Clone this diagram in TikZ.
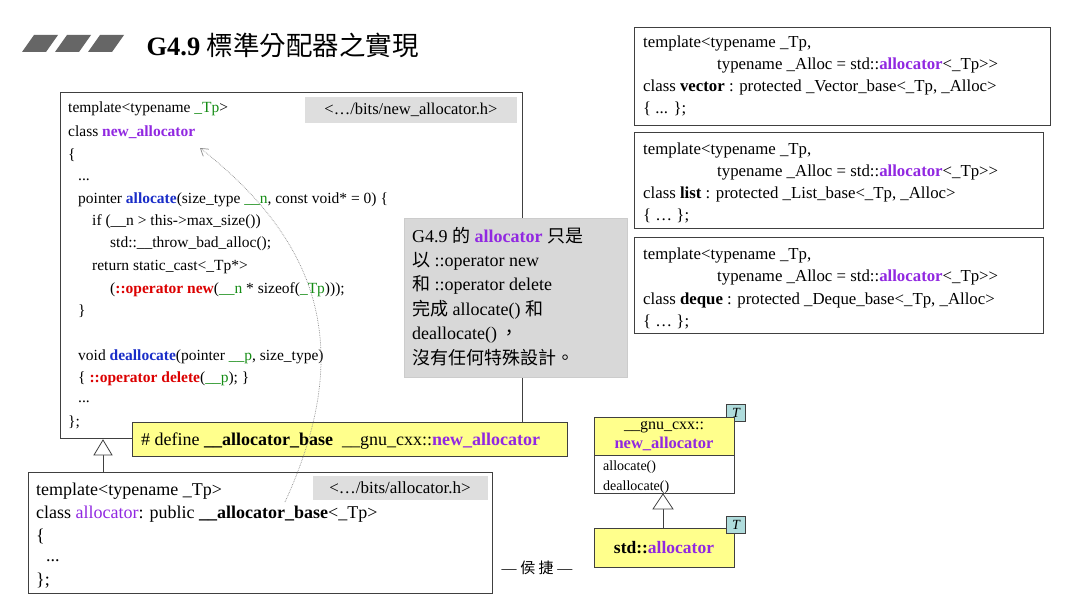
\documentclass[tikz,border=0pt]{standalone}
\usepackage{fontspec}
\setmainfont{Liberation Serif}[Ligatures=NoCommon]
\newfontfamily\cjk{Noto Sans CJK TC}
\usetikzlibrary{arrows.meta}
\definecolor{pur}{RGB}{145,40,225}
\definecolor{blu}{RGB}{25,45,200}
\definecolor{grn}{RGB}{20,140,20}
\definecolor{rd}{RGB}{220,0,0}
\definecolor{yel}{RGB}{255,255,140}
\definecolor{lgray}{RGB}{222,222,222}
\definecolor{ngray}{RGB}{216,216,216}
\definecolor{tcy}{RGB}{175,220,220}
\newcommand{\pu}[1]{\textcolor{pur}{\textbf{#1}}}
\newcommand{\bl}[1]{\textcolor{blu}{\textbf{#1}}}
\newcommand{\gr}[1]{\textcolor{grn}{#1}}
\newcommand{\rr}[1]{\textcolor{rd}{\textbf{#1}}}
\tikzset{
 code/.style={anchor=base west,inner sep=0pt,font=\fontsize{15.5}{18}\selectfont},
 bigcode/.style={code,font=\fontsize{18}{20}\selectfont},
 rcode/.style={code,font=\fontsize{16.8}{18}\selectfont},
 box/.style={draw=black!75,line width=0.8pt},
 tbox/.style={draw=black!75,fill=tcy,line width=0.6pt,inner sep=0pt,minimum width=19pt,minimum height=17pt,font=\itshape\fontsize{14}{14}\selectfont},
 inh/.style={draw=black!75,line width=0.8pt,fill=white}
}
\begin{document}
\begin{tikzpicture}[x=1pt,y=-1pt]
\path[use as bounding box,fill=white] (0,0) rectangle (1068,599);
% title
\foreach \i in {0,1,2}{\fill[black!60] (22+\i*33,52) -- (34+\i*33,35) -- (58+\i*33,35) -- (46+\i*33,52) -- cycle;}
\node[anchor=west,font=\fontsize{26.5}{26}\selectfont] (title) at (143,45) {\textbf{G4.9} {\cjk 標準分配器之實現}};
% box 1
\draw[box] (60,92) rectangle (522,438);
\node[fill=lgray,minimum width=212pt,minimum height=26pt,inner sep=0pt,font=\fontsize{16.5}{18}\selectfont] (h1) at (411,110) {<…/bits/new\_allocator.h>};
\node[code] (a1) at (68,113) {template<typename \gr{\_Tp}>};
\node[code] (a2) at (68,136) {class \pu{new\_allocator}};
\node[code] (a3) at (68,159) {\{};
\node[code] (a4) at (78,180) {...};
\node[code] (a5) at (78,203) {pointer \bl{allocate}(size\_type \gr{\_\_n}, const void* = 0) \{};
\node[code] (a6) at (92,225) {if (\_\_n > this->max\_size())};
\node[code] (a7) at (110,247) {std::\_\_throw\_bad\_alloc();};
\node[code] (a8) at (92,270) {return static\_cast<\_Tp*>};
\node[code] (a9) at (110,293) {(\rr{::operator new}(\gr{\_\_n} * sizeof(\gr{\_Tp})));};
\node[code] (a10) at (78,315) {\}};
\node[code] (a11) at (78,360) {void \bl{deallocate}(pointer \gr{\_\_p}, size\_type)};
\node[code] (a12) at (78,382) {\{ \rr{::operator delete}(\gr{\_\_p}); \}};
\node[code] (a13) at (78,402) {...};
\node[code] (a14) at (68,426) {\};};
% note
\node[fill=ngray,draw=black!20,minimum width=223pt,minimum height=159pt,inner sep=0pt] (note) at (515.5,297.5) {};
\begin{scope}[every node/.style={code,font=\fontsize{18}{20}\selectfont}]
\node (n1) at (412,242) {G4.9 {\cjk 的} \textcolor{pur}{\textbf{allocator}} {\cjk 只是}};
\node (n2) at (412,266) {{\cjk 以} ::operator new};
\node (n3) at (412,290) {{\cjk 和} ::operator delete};
\node (n4) at (412,315) {{\cjk 完成} allocate() {\cjk 和}};
\node (n5) at (412,339) {deallocate()\,{\cjk ，}};
\node (n6) at (412,364) {{\cjk 沒有任何特殊設計。}};
\end{scope}
% define box
\node[fill=yel,draw=black!75,line width=0.8pt,minimum width=435pt,minimum height=34pt,inner sep=0pt] (def) at (349.5,439) {};
\node[bigcode] (d1) at (141,445) {\# define \textbf{\_\_allocator\_base}\ \ \_\_gnu\_cxx::\pu{new\_allocator}};
% box 2
\draw[box] (28,472) rectangle (492,593);
\node[fill=lgray,minimum width=175pt,minimum height=24pt,inner sep=0pt,font=\fontsize{17}{18}\selectfont] (h2) at (400,488) {<…/bits/allocator.h>};
\node[bigcode] (b1) at (36,495) {template<typename \_Tp>};
\node[bigcode] (b2) at (36,518) {class \textcolor{pur}{allocator}: public \textbf{\_\_allocator\_base}<\_Tp>};
\node[bigcode] (b3) at (36,541) {\{};
\node[bigcode] (b4) at (46,561) {...};
\node[bigcode] (b5) at (36,585) {\};};
% inheritance
\coordinate (t1) at (103,440);
\draw[box] (103,455) -- (103,472);
\draw[inh] (t1) -- (112,455) -- (94,455) -- cycle;
% dotted curve
\coordinate (cs) at (285,502);
\coordinate (ce) at (200,148);
\draw[black!45,densely dotted,line width=0.7pt,-{Straight Barb[length=7pt,width=9pt]}] (cs) .. controls (350,360) and (330,250) .. (ce);
% credit
\node[anchor=center,font=\fontsize{15}{15}\selectfont] (cred) at (537,568) {— {\cjk 侯 捷} —};
% UML
\node[tbox] (T1) at (736,413) {T};
\fill[yel] (594,417) rectangle (734,455);
\draw[box] (594,417) rectangle (734,493);
\draw[box] (594,455) -- (734,455);
\node[anchor=center,font=\fontsize{16}{16}\selectfont] (u1) at (664,427) {\_\_gnu\_cxx::};
\node[anchor=center,font=\fontsize{16.5}{16}\selectfont] (u2) at (664,444) {\pu{new\_allocator}};
\node[code,font=\fontsize{14}{14}\selectfont] (u3) at (603,470) {allocate()};
\node[code,font=\fontsize{14}{14}\selectfont] (u4) at (603,490) {deallocate()};
\draw[box] (663,509) -- (663,528);
\draw[inh] (663,494) -- (673,509) -- (653,509) -- cycle;
\node[fill=yel,draw=black!75,line width=0.8pt,minimum width=140pt,minimum height=39pt,inner sep=0pt,font=\fontsize{17.5}{18}\selectfont] (sa) at (664,547.5) {\textbf{std::}\pu{allocator}};
\node[tbox] (T2) at (736,525) {T};
% right boxes
\draw[box] (634,27) rectangle (1050,125);
\draw[box] (634,132) rectangle (1043,228);
\draw[box] (634,237) rectangle (1043,333);
\begin{scope}[every node/.style={rcode}]
\node (r1) at (643,48) {template<typename \_Tp,};
\node (r2) at (717,70) {typename \_Alloc = std::\pu{allocator}<\_Tp>{}>};
\node (r3) at (643,92) {class \textbf{vector} : protected \_Vector\_base<\_Tp, \_Alloc>};
\node (r4) at (643,114) {\{ ... \};};
\node (s1) at (643,154) {template<typename \_Tp,};
\node (s2) at (717,176) {typename \_Alloc = std::\pu{allocator}<\_Tp>{}>};
\node (s3) at (643,198) {class \textbf{list} : protected \_List\_base<\_Tp, \_Alloc>};
\node (s4) at (643,220) {\{ … \};};
\node (q1) at (643,259) {template<typename \_Tp,};
\node (q2) at (717,281) {typename \_Alloc = std::\pu{allocator}<\_Tp>{}>};
\node (q3) at (643,304) {class \textbf{deque} : protected \_Deque\_base<\_Tp, \_Alloc>};
\node (q4) at (643,326) {\{ … \};};
\end{scope}
\end{tikzpicture}
\end{document}
